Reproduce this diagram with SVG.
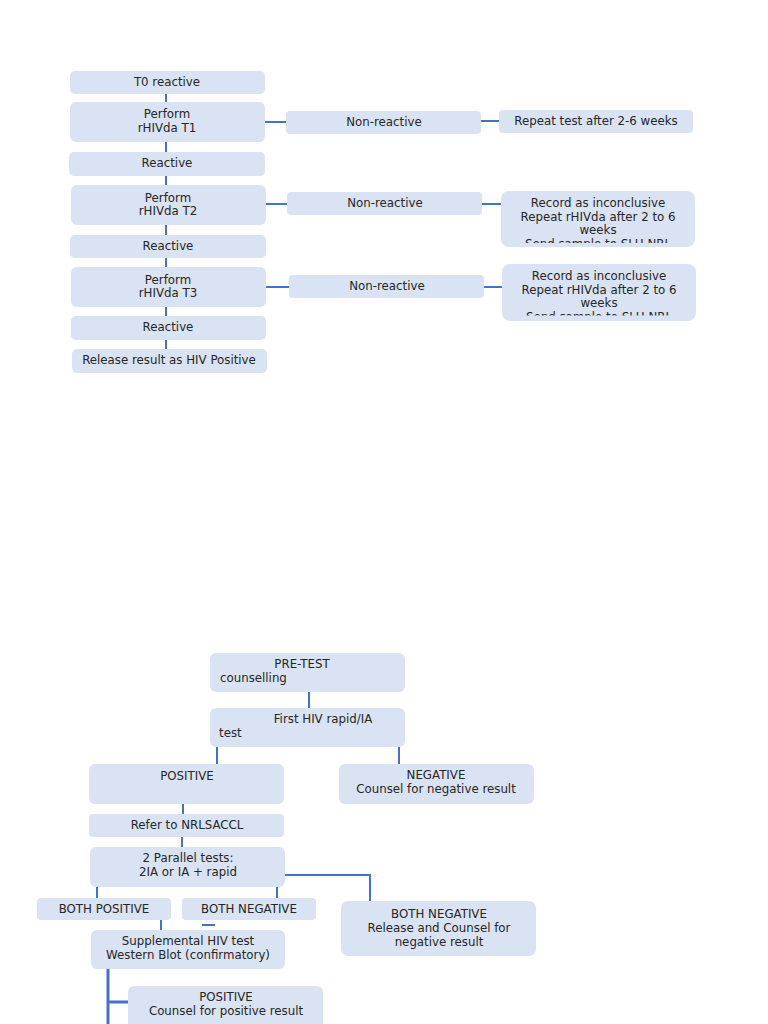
<svg xmlns="http://www.w3.org/2000/svg" width="768" height="1024" viewBox="0 0 768 1024">
<style>
.b{fill:#dae3f3;stroke:none}
.t{font-family:"DejaVu Sans",sans-serif;font-size:11.8px;fill:#262626;text-anchor:middle}
.l{font-family:"DejaVu Sans",sans-serif;font-size:11.8px;fill:#262626;text-anchor:start}
.c{stroke:#4472c4;stroke-width:2;fill:none}
.ct{stroke:#4472c4;stroke-width:3;fill:none}
</style>
<defs>
<clipPath id="cp2"><rect x="501" y="191" width="194" height="52"/></clipPath>
<clipPath id="cp3"><rect x="502" y="264" width="194" height="51.5"/></clipPath>
</defs>
<rect width="768" height="1024" fill="#ffffff"/>
<g id="connectors">
<path class="c" d="M166 94V102M166 142V152M166 176V185M166 225V235M166 258V267M166 307V316M166 340V349"/>
<path class="c" d="M265 122H286M481 121H499M266 204H287M482 204H501M266 287H289M484 287H502"/>
<path class="c" d="M309 692V708M217 747V764M399 747V764M183 804V814M182 837V847M97 887V898M277 887V898M285 875H370V901M161 920V930M202 925H215"/>
<path class="ct" d="M108 969V1024M108 1002H128"/>
</g>
<g id="t0"><rect class="b" x="70" y="71" width="195" height="23" rx="5"/><text class="t" x="167" y="86">T0 reactive</text></g>
<g id="t1"><rect class="b" x="70" y="102" width="195" height="40" rx="6"/><text class="t" x="167" y="118">Perform</text><text class="t" x="167" y="132">rHIVda T1</text></g>
<g id="r1"><rect class="b" x="69" y="152" width="196" height="24" rx="5"/><text class="t" x="167" y="167">Reactive</text></g>
<g id="t2"><rect class="b" x="71" y="185" width="195" height="40" rx="6"/><text class="t" x="168" y="202">Perform</text><text class="t" x="168" y="215">rHIVda T2</text></g>
<g id="r2"><rect class="b" x="70" y="235" width="196" height="23" rx="5"/><text class="t" x="168" y="250">Reactive</text></g>
<g id="t3"><rect class="b" x="71" y="267" width="195" height="40" rx="6"/><text class="t" x="168" y="284">Perform</text><text class="t" x="168" y="297">rHIVda T3</text></g>
<g id="r3"><rect class="b" x="71" y="316" width="195" height="24" rx="5"/><text class="t" x="168" y="331">Reactive</text></g>
<g id="rel"><rect class="b" x="72" y="349" width="195" height="24" rx="5"/><text class="t" x="169" y="364">Release result as HIV Positive</text></g>
<g id="nr1"><rect class="b" x="286" y="111" width="195" height="23" rx="4"/><text class="t" x="384" y="126">Non-reactive</text></g>
<g id="rep"><rect class="b" x="499" y="110" width="194" height="23" rx="4"/><text class="t" x="596" y="125">Repeat test after 2-6 weeks</text></g>
<g id="nr2"><rect class="b" x="287" y="192" width="195" height="23" rx="4"/><text class="t" x="385" y="207">Non-reactive</text></g>
<g id="rec2"><rect class="b" x="501" y="191" width="194" height="56" rx="8"/><g clip-path="url(#cp2)"><text class="t" x="598" y="207">Record as inconclusive</text><text class="t" x="598" y="221">Repeat rHIVda after 2 to 6</text><text class="t" x="598" y="234">weeks</text><text class="t" x="598" y="248">Send sample to SLH NRL</text></g></g>
<g id="nr3"><rect class="b" x="289" y="275" width="195" height="23" rx="4"/><text class="t" x="387" y="290">Non-reactive</text></g>
<g id="rec3"><rect class="b" x="502" y="264" width="194" height="57" rx="8"/><g clip-path="url(#cp3)"><text class="t" x="599" y="280">Record as inconclusive</text><text class="t" x="599" y="294">Repeat rHIVda after 2 to 6</text><text class="t" x="599" y="307">weeks</text><text class="t" x="599" y="321">Send sample to SLH NRL</text></g></g>
<g id="pre"><rect class="b" x="210" y="653" width="195" height="39" rx="6"/><text class="t" x="302" y="668">PRE-TEST</text><text class="l" x="220" y="682">counselling</text></g>
<g id="first"><rect class="b" x="210" y="708" width="195" height="39" rx="6"/><text class="t" x="323" y="723">First HIV rapid/IA</text><text class="l" x="219" y="737">test</text></g>
<g id="pos"><rect class="b" x="89" y="764" width="195" height="40" rx="6"/><text class="t" x="187" y="780">POSITIVE</text></g>
<g id="neg"><rect class="b" x="339" y="764" width="195" height="40" rx="6"/><text class="t" x="436" y="779">NEGATIVE</text><text class="t" x="436" y="793">Counsel for negative result</text></g>
<g id="refer"><rect class="b" x="89" y="814" width="195" height="23" rx="4"/><text class="t" x="187" y="829">Refer to NRLSACCL</text></g>
<g id="par"><rect class="b" x="90" y="847" width="195" height="40" rx="6"/><text class="t" x="188" y="862">2 Parallel tests:</text><text class="t" x="188" y="876">2IA or IA + rapid</text></g>
<g id="bpos"><rect class="b" x="37" y="898" width="134" height="22" rx="4"/><text class="t" x="104" y="913">BOTH POSITIVE</text></g>
<g id="bneg"><rect class="b" x="182" y="898" width="134" height="22" rx="4"/><text class="t" x="249" y="913">BOTH NEGATIVE</text></g>
<g id="bneg2"><rect class="b" x="341" y="901" width="195" height="55" rx="7"/><text class="t" x="439" y="918">BOTH NEGATIVE</text><text class="t" x="439" y="932">Release and Counsel for</text><text class="t" x="439" y="946">negative result</text></g>
<g id="sup"><rect class="b" x="91" y="930" width="194" height="39" rx="6"/><text class="t" x="188" y="945">Supplemental HIV test</text><text class="t" x="188" y="959">Western Blot (confirmatory)</text></g>
<g id="pos2"><rect class="b" x="128" y="986" width="195" height="45" rx="6"/><text class="t" x="226" y="1001">POSITIVE</text><text class="t" x="226" y="1015">Counsel for positive result</text></g>
</svg>
